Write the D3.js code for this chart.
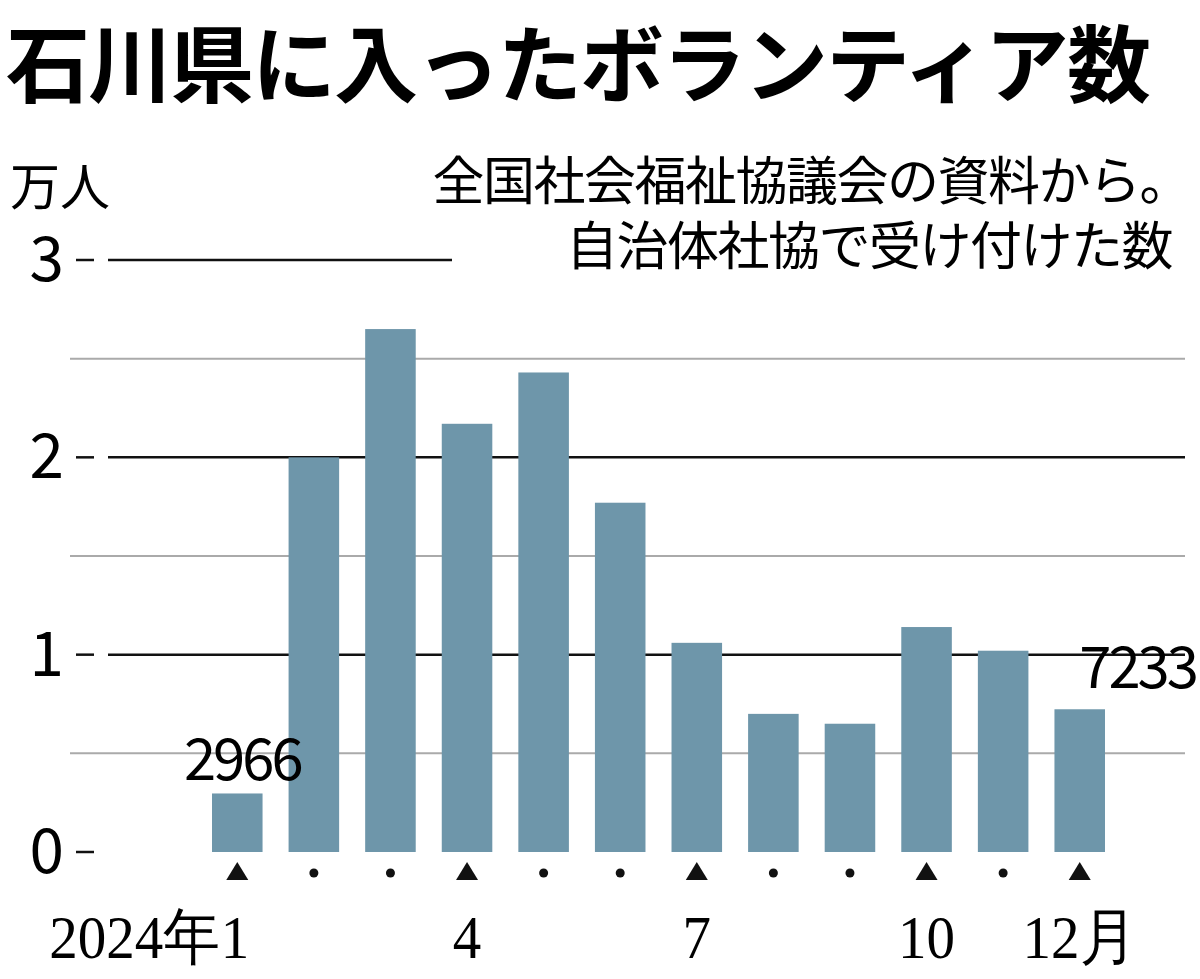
<!DOCTYPE html><html><head><meta charset="utf-8"><script src="https://cdn.jsdelivr.net/npm/d3@7"></script>
<style>body{margin:0;background:#fff}</style></head><body><svg id="c" width="1200" height="979"></svg><script>
const months=[1,2,3,4,5,6,7,8,9,10,11,12];
const values=[2966,20000,26500,21700,24300,17700,10600,7000,6500,11400,10200,7233];
const majorTicks=[0,1,2,3];
const minorTicks=[0.5,1.5,2.5];
const triMonths=[1,4,7,10,12];
const xLabels={1:"2024年1",4:"4",7:"7",10:"10",12:"12月"};
const svg=d3.select("#c");
const font="'Noto Sans CJK JP',sans-serif";
const y=d3.scaleLinear().domain([0,3]).range([852,260]);
const x=d3.scaleBand().domain(months).range([212,1105]).paddingInner(0.34);
minorTicks.forEach(t=>svg.append("line").attr("x1",70).attr("x2",1185).attr("y1",y(t)).attr("y2",y(t)).attr("stroke","#aaa").attr("stroke-width",2));
majorTicks.forEach(t=>{
  if(t>0) svg.append("line").attr("x1",108).attr("x2",t==3?452:1185).attr("y1",y(t)).attr("y2",y(t)).attr("stroke","#111").attr("stroke-width",2.5);
  svg.append("line").attr("x1",76).attr("x2",94).attr("y1",y(t)).attr("y2",y(t)).attr("stroke","#111").attr("stroke-width",2.5);
  svg.append("text").attr("x",64).attr("y",y(t)+21).attr("text-anchor","end").attr("font-family",font).attr("font-size",62).text(t);
});
svg.selectAll("rect").data(values).join("rect").attr("x",(d,i)=>x(months[i])).attr("width",x.bandwidth()).attr("y",d=>y(d/10000)).attr("height",d=>y(0)-y(d/10000)).attr("fill","#6e96aa");
months.forEach(m=>{
  const cx=x(m)+x.bandwidth()/2;
  if(triMonths.includes(m)) svg.append("path").attr("d",`M${cx-11},${880}L${cx+11},${880}L${cx},${862}Z`).attr("fill","#111");
  else svg.append("circle").attr("cx",cx).attr("cy",873).attr("r",4.5).attr("fill","#111");
  if(xLabels[m]){svg.append("text").attr("x",m==1?cx+12:cx).attr("y",958).attr("text-anchor",m==1?"end":"middle").attr("font-family","'Liberation Serif',serif").attr("font-size",62).attr("transform",`translate(${m==1?cx+12:cx},0) scale(0.92,1) translate(${-(m==1?cx+12:cx)},0)`).text(xLabels[m]);}
});
svg.append("text").attr("x",x(1)+x.bandwidth()/2+5).attr("y",780).attr("text-anchor","middle").attr("font-family",font).attr("font-size",58).attr("letter-spacing",-3).text("2966");
svg.append("text").attr("x",1196).attr("y",688).attr("text-anchor","end").attr("font-family",font).attr("font-size",58).attr("letter-spacing",-3).text("7233");
svg.append("text").attr("x",6).attr("y",96).attr("font-family",font).attr("font-weight","bold").attr("font-size",84).attr("letter-spacing",-2).text("石川県に入ったボランティア数");
svg.append("text").attr("x",10).attr("y",205).attr("font-family",font).attr("font-size",50).text("万人");
svg.append("text").attr("x",1190).attr("y",200).attr("text-anchor","end").attr("font-family",font).attr("font-size",52).attr("letter-spacing",-1.5).text("全国社会福祉協議会の資料から。");
svg.append("text").attr("x",1172).attr("y",265).attr("text-anchor","end").attr("font-family",font).attr("font-size",52).attr("letter-spacing",-1.5).text("自治体社協で受け付けた数");
</script></body></html>
